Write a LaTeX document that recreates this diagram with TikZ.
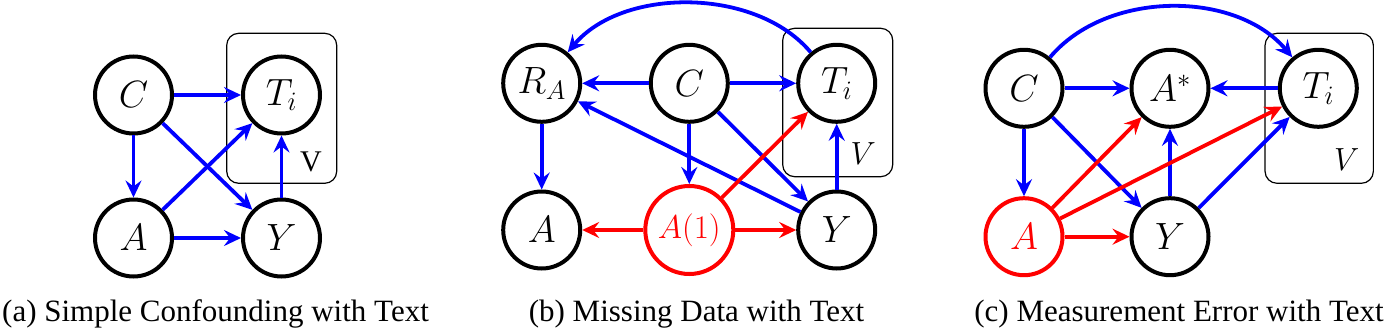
\RequirePackage{fix-cm}
\documentclass[tikz,border=0pt]{standalone}
\usepackage[no-math]{fontspec}
\setmainfont{Liberation Serif}
\usetikzlibrary{arrows.meta}
\definecolor{eblue}{RGB}{0,0,255}
\definecolor{ered}{RGB}{255,0,0}
\begin{document}
\begin{tikzpicture}[x=1pt,y=1pt,
  vert/.style={circle, draw=black, line width=4pt, minimum size=77pt, inner sep=0pt, font=\fontsize{38}{44}\selectfont},
  redvert/.style={vert, draw=ered, text=ered},
  plate/.style={rectangle, draw=black, line width=1.2pt, rounded corners=12pt, inner sep=0pt},
  edge/.style={draw=eblue, line width=3.8pt, -{Stealth[length=17pt,width=16pt,inset=6pt]}},
  redge/.style={edge, draw=ered},
  captext/.style={font=\fontsize{31}{36}\selectfont, anchor=base, inner sep=0pt},
  vlab/.style={inner sep=0pt}]
\useasboundingbox (0,0) rectangle (1385,330);

% ---------- (a) ----------
\node[plate, minimum width=110pt, minimum height=150pt] (boxa) at (281.7,221.7) {};
\node[vert] (aC) at (133.5,235) {$C$};
\node[vert] (aT) at (281.5,235) {$T_i$};
\node[vert] (aA) at (133.5,92) {$A$};
\node[vert] (aY) at (281.5,92) {$Y$};
\node[vlab, font=\fontsize{30}{34}\selectfont] (aV) at (311,168) {V};
\draw[edge] (aC) -- (aT);
\draw[edge] (aC) -- (aA);
\draw[edge] (aC) -- (aY);
\draw[edge] (aA) -- (aT);
\draw[edge] (aA) -- (aY);
\draw[edge] (aY) -- (aT);
\node[captext, anchor=base west] (capa) at (2,8.3) {(a) Simple Confounding with Text};

% ---------- (b) ----------
\node[plate, minimum width=110pt, minimum height=148.4pt] (boxb) at (837.7,227.5) {};
\node[vert] (bR) at (541.7,246.7) {$R_A$};
\node[vert] (bC) at (689.3,246.7) {$C$};
\node[vert] (bT) at (836.7,246.7) {$T_i$};
\node[vert] (bA) at (541.7,100) {$A$};
\node[redvert, minimum size=88pt, font=\fontsize{33}{40}\selectfont] (bA1) at (689.3,100) {$A(1)$};
\node[vert] (bY) at (836.7,100) {$Y$};
\node[vlab, font=\fontsize{32}{36}\selectfont] (bV) at (863.3,176.7) {$V$};
\draw[edge] (bC) -- (bR);
\draw[edge] (bC) -- (bT);
\draw[edge] (bC) -- (bA1);
\draw[edge] (bC) -- (bY);
\draw[edge] (bR) -- (bA);
\draw[edge] (bY) -- (bR);
\draw[edge] (bY) -- (bT);
\draw[redge] (bA1) -- (bA);
\draw[redge] (bA1) -- (bY);
\draw[redge] (bA1) -- (bT);
\draw[edge] (bT) to[out=130,in=50,looseness=0.9] (bR);
\node[captext] (capb) at (696.5,8.3) {(b) Missing Data with Text};

% ---------- (c) ----------
\node[plate, minimum width=108.3pt, minimum height=150pt] (boxc) at (1319.2,221.7) {};
\node[vert] (cC) at (1024,241.7) {$C$};
\node[vert] (cS) at (1170,241.7) {$A^{*}$};
\node[vert] (cT) at (1318.3,241.7) {$T_i$};
\node[redvert] (cA) at (1024,93.3) {$A$};
\node[vert] (cY) at (1170,93.3) {$Y$};
\node[vlab, font=\fontsize{32}{36}\selectfont] (cV) at (1346.7,170) {$V$};
\draw[edge] (cC) -- (cS);
\draw[edge] (cT) -- (cS);
\draw[edge] (cC) -- (cA);
\draw[edge] (cC) -- (cY);
\draw[edge] (cY) -- (cS);
\draw[edge] (cY) -- (cT);
\draw[redge] (cA) -- (cS);
\draw[redge] (cA) -- (cT);
\draw[redge] (cA) -- (cY);
\draw[edge] (cC) to[out=50,in=130,looseness=0.93] (cT);
\node[captext] (capc) at (1179,8.3) {(c) Measurement Error with Text};
\end{tikzpicture}
\end{document}
